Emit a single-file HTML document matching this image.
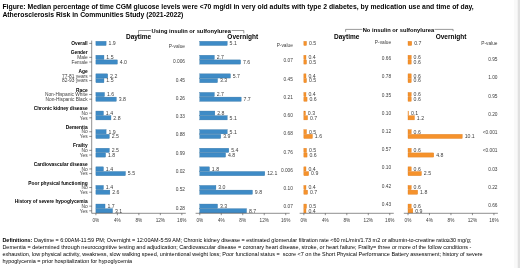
<!DOCTYPE html>
<html><head><meta charset="utf-8"><title>Figure</title>
<style>html,body{margin:0;padding:0;background:#fff;width:520px;height:268px;overflow:hidden}</style>
</head><body>
<svg width="520" height="268" viewBox="0 0 520 268" style="display:block">
<rect x="0" y="0" width="520" height="268" fill="#ffffff"/>
<rect x="514" y="0" width="3" height="268" fill="#f9f9f9"/>
<rect x="517" y="0" width="1" height="268" fill="#f2f2f2"/>
<rect x="518" y="0" width="2" height="268" fill="#e0e0e0"/>
<g font-family="'Liberation Sans', Arial, sans-serif" font-weight="bold" font-size="6.83" fill="#000000">
<text x="2.4" y="8.9" textLength="471.3" lengthAdjust="spacing">Figure: Median percentage of time CGM glucose levels were &lt;70 mg/dl in very old adults with type 2 diabetes, by medication use and time of day,</text>
<text x="2.4" y="17.4">Atherosclerosis Risk in Communities Study (2021-2022)</text>
</g>
<g font-family="'Liberation Sans', Arial, sans-serif" font-weight="bold" font-size="6.5" fill="#000000" text-anchor="middle">
<text x="138.6" y="38.6">Daytime</text>
<text x="242.7" y="38.6">Overnight</text>
<text x="346.7" y="38.5">Daytime</text>
<text x="451.0" y="38.5">Overnight</text>
</g>
<g font-family="'Liberation Sans', Arial, sans-serif" font-weight="bold" font-size="5.72" fill="#000000">
<text x="151.5" y="32.6" textLength="79.4" lengthAdjust="spacing">Using insulin or sulfonylurea</text>
<text x="362.7" y="31.5" textLength="71.4" lengthAdjust="spacing">No insulin or sulfonylurea</text>
</g>
<g fill="none" stroke="#333" stroke-width="0.5">
<polyline points="138.5,33.6 138.5,30.5 150.8,30.5"/>
<polyline points="231.6,30.5 243.8,30.5 243.8,33.3"/>
<polyline points="345.6,31.8 345.6,29.4 362.3,29.4"/>
<polyline points="434.6,29.4 453.1,29.4 453.1,31.2"/>
</g>
<g font-family="'Liberation Sans', Arial, sans-serif" font-size="4.83" text-anchor="end">
<text x="87.6" y="45.13" font-weight="bold" fill="#000000">Overall</text>
<text x="87.6" y="54.43" font-weight="bold" fill="#000000">Gender</text>
<text x="87.6" y="59.08" fill="#3d3d3d">Male</text>
<text x="87.6" y="63.73" fill="#3d3d3d">Female</text>
<text x="87.6" y="73.03" font-weight="bold" fill="#000000">Age</text>
<text x="87.6" y="77.68" fill="#3d3d3d">77-81 years</text>
<text x="87.6" y="82.33" fill="#3d3d3d">82-93 years</text>
<text x="87.6" y="91.63" font-weight="bold" fill="#000000">Race</text>
<text x="87.6" y="96.28" fill="#3d3d3d">Non-Hispanic White</text>
<text x="87.6" y="100.93" fill="#3d3d3d">Non-Hispanic Black</text>
<text x="87.6" y="110.23" font-weight="bold" fill="#000000">Chronic kidney disease</text>
<text x="87.6" y="114.88" fill="#3d3d3d">No</text>
<text x="87.6" y="119.53" fill="#3d3d3d">Yes</text>
<text x="87.6" y="128.83" font-weight="bold" fill="#000000">Dementia</text>
<text x="87.6" y="133.48" fill="#3d3d3d">No</text>
<text x="87.6" y="138.13" fill="#3d3d3d">Yes</text>
<text x="87.6" y="147.43" font-weight="bold" fill="#000000">Frailty</text>
<text x="87.6" y="152.08" fill="#3d3d3d">No</text>
<text x="87.6" y="156.73" fill="#3d3d3d">Yes</text>
<text x="87.6" y="166.03" font-weight="bold" fill="#000000">Cardiovascular disease</text>
<text x="87.6" y="170.68" fill="#3d3d3d">No</text>
<text x="87.6" y="175.33" fill="#3d3d3d">Yes</text>
<text x="87.6" y="184.63" font-weight="bold" fill="#000000">Poor physical functioning</text>
<text x="87.6" y="189.28" fill="#3d3d3d">No</text>
<text x="87.6" y="193.93" fill="#3d3d3d">Yes</text>
<text x="87.6" y="203.23" font-weight="bold" fill="#000000">History of severe hypoglycemia</text>
<text x="87.6" y="207.88" fill="#3d3d3d">No</text>
<text x="87.6" y="212.53" fill="#3d3d3d">Yes</text>
</g>
<g stroke="#333" stroke-width="0.55" fill="none">
<line x1="91.7" y1="40.6" x2="91.7" y2="213.3"/>
<line x1="89.2" y1="43.40" x2="91.7" y2="43.40"/>
<line x1="89.2" y1="57.35" x2="91.7" y2="57.35"/>
<line x1="89.2" y1="62.00" x2="91.7" y2="62.00"/>
<line x1="89.2" y1="75.95" x2="91.7" y2="75.95"/>
<line x1="89.2" y1="80.60" x2="91.7" y2="80.60"/>
<line x1="89.2" y1="94.55" x2="91.7" y2="94.55"/>
<line x1="89.2" y1="99.20" x2="91.7" y2="99.20"/>
<line x1="89.2" y1="113.15" x2="91.7" y2="113.15"/>
<line x1="89.2" y1="117.80" x2="91.7" y2="117.80"/>
<line x1="89.2" y1="131.75" x2="91.7" y2="131.75"/>
<line x1="89.2" y1="136.40" x2="91.7" y2="136.40"/>
<line x1="89.2" y1="150.35" x2="91.7" y2="150.35"/>
<line x1="89.2" y1="155.00" x2="91.7" y2="155.00"/>
<line x1="89.2" y1="168.95" x2="91.7" y2="168.95"/>
<line x1="89.2" y1="173.60" x2="91.7" y2="173.60"/>
<line x1="89.2" y1="187.55" x2="91.7" y2="187.55"/>
<line x1="89.2" y1="192.20" x2="91.7" y2="192.20"/>
<line x1="89.2" y1="206.15" x2="91.7" y2="206.15"/>
<line x1="89.2" y1="210.80" x2="91.7" y2="210.80"/>
</g>
<g fill="#3e8bc6" stroke="#2d6fa2" stroke-width="0.35">
<rect x="95.9" y="41.30" width="10.20" height="4.2"/>
<rect x="95.9" y="55.25" width="8.05" height="4.2"/>
<rect x="95.9" y="59.90" width="21.48" height="4.2"/>
<rect x="95.9" y="73.85" width="11.81" height="4.2"/>
<rect x="95.9" y="78.50" width="8.05" height="4.2"/>
<rect x="95.9" y="92.45" width="8.59" height="4.2"/>
<rect x="95.9" y="97.10" width="20.41" height="4.2"/>
<rect x="95.9" y="111.05" width="7.52" height="4.2"/>
<rect x="95.9" y="115.70" width="15.04" height="4.2"/>
<rect x="95.9" y="129.65" width="10.20" height="4.2"/>
<rect x="95.9" y="134.30" width="13.43" height="4.2"/>
<rect x="95.9" y="148.25" width="13.43" height="4.2"/>
<rect x="95.9" y="152.90" width="9.67" height="4.2"/>
<rect x="95.9" y="166.85" width="7.52" height="4.2"/>
<rect x="95.9" y="171.50" width="29.54" height="4.2"/>
<rect x="95.9" y="185.45" width="7.52" height="4.2"/>
<rect x="95.9" y="190.10" width="13.96" height="4.2"/>
<rect x="95.9" y="204.05" width="9.13" height="4.2"/>
<rect x="95.9" y="208.70" width="16.65" height="4.2"/>
</g>
<g font-family="'Liberation Sans', Arial, sans-serif" font-size="5.2" fill="#3d3d3d">
<text x="108.50" y="45.27">1.9</text>
<text x="106.36" y="59.22">1.5</text>
<text x="119.78" y="63.87">4.0</text>
<text x="110.11" y="77.82">2.2</text>
<text x="106.36" y="82.47">1.5</text>
<text x="106.89" y="96.42">1.6</text>
<text x="118.71" y="101.07">3.8</text>
<text x="105.82" y="115.02">1.4</text>
<text x="113.34" y="119.67">2.8</text>
<text x="108.50" y="133.62">1.9</text>
<text x="111.73" y="138.27">2.5</text>
<text x="111.73" y="152.22">2.5</text>
<text x="107.97" y="156.87">1.8</text>
<text x="105.82" y="170.82">1.4</text>
<text x="127.84" y="175.47">5.5</text>
<text x="105.82" y="189.42">1.4</text>
<text x="112.26" y="194.07">2.6</text>
<text x="107.43" y="208.02">1.7</text>
<text x="114.95" y="212.67">3.1</text>
</g>
<g font-family="'Liberation Sans', Arial, sans-serif" font-size="4.8" fill="#3d3d3d" text-anchor="end">
<text x="185.0" y="47.72">P-value</text>
<text x="185.0" y="63.32">0.006</text>
<text x="185.0" y="81.60">0.45</text>
<text x="185.0" y="99.88">0.26</text>
<text x="185.0" y="118.16">0.33</text>
<text x="185.0" y="136.44">0.88</text>
<text x="185.0" y="154.72">0.99</text>
<text x="185.0" y="173.00">0.02</text>
<text x="185.0" y="191.28">0.52</text>
<text x="185.0" y="209.56">0.28</text>
</g>
<g stroke="#333" stroke-width="0.55" fill="none">
<line x1="91.70" y1="213.3" x2="185.82" y2="213.3"/>
<line x1="95.90" y1="213.3" x2="95.90" y2="215.20000000000002"/>
<line x1="117.38" y1="213.3" x2="117.38" y2="215.20000000000002"/>
<line x1="138.86" y1="213.3" x2="138.86" y2="215.20000000000002"/>
<line x1="160.34" y1="213.3" x2="160.34" y2="215.20000000000002"/>
<line x1="181.82" y1="213.3" x2="181.82" y2="215.20000000000002"/>
</g>
<g font-family="'Liberation Sans', Arial, sans-serif" font-size="4.7" fill="#3d3d3d" text-anchor="middle">
<text x="95.90" y="222">0%</text>
<text x="117.38" y="222">4%</text>
<text x="138.86" y="222">8%</text>
<text x="160.34" y="222">12%</text>
<text x="181.82" y="222">16%</text>
</g>
<g fill="#3e8bc6" stroke="#2d6fa2" stroke-width="0.35">
<rect x="199.8" y="41.30" width="27.39" height="4.2"/>
<rect x="199.8" y="55.25" width="14.50" height="4.2"/>
<rect x="199.8" y="59.90" width="40.81" height="4.2"/>
<rect x="199.8" y="73.85" width="30.61" height="4.2"/>
<rect x="199.8" y="78.50" width="17.72" height="4.2"/>
<rect x="199.8" y="92.45" width="14.50" height="4.2"/>
<rect x="199.8" y="97.10" width="41.35" height="4.2"/>
<rect x="199.8" y="111.05" width="15.04" height="4.2"/>
<rect x="199.8" y="115.70" width="27.39" height="4.2"/>
<rect x="199.8" y="129.65" width="27.39" height="4.2"/>
<rect x="199.8" y="134.30" width="20.94" height="4.2"/>
<rect x="199.8" y="148.25" width="29.00" height="4.2"/>
<rect x="199.8" y="152.90" width="25.78" height="4.2"/>
<rect x="199.8" y="166.85" width="9.67" height="4.2"/>
<rect x="199.8" y="171.50" width="64.98" height="4.2"/>
<rect x="199.8" y="185.45" width="16.11" height="4.2"/>
<rect x="199.8" y="190.10" width="52.63" height="4.2"/>
<rect x="199.8" y="204.05" width="17.72" height="4.2"/>
<rect x="199.8" y="208.70" width="46.72" height="4.2"/>
</g>
<g font-family="'Liberation Sans', Arial, sans-serif" font-size="5.2" fill="#3d3d3d">
<text x="229.59" y="45.27">5.1</text>
<text x="216.70" y="59.22">2.7</text>
<text x="243.01" y="63.87">7.6</text>
<text x="232.81" y="77.82">5.7</text>
<text x="219.92" y="82.47">3.3</text>
<text x="216.70" y="96.42">2.7</text>
<text x="243.55" y="101.07">7.7</text>
<text x="217.24" y="115.02">2.8</text>
<text x="229.59" y="119.67">5.1</text>
<text x="229.59" y="133.62">5.1</text>
<text x="223.14" y="138.27">3.9</text>
<text x="231.20" y="152.22">5.4</text>
<text x="227.98" y="156.87">4.8</text>
<text x="211.87" y="170.82">1.8</text>
<text x="267.18" y="175.47">12.1</text>
<text x="218.31" y="189.42">3.0</text>
<text x="254.83" y="194.07">9.8</text>
<text x="219.92" y="208.02">3.3</text>
<text x="248.92" y="212.67">8.7</text>
</g>
<g font-family="'Liberation Sans', Arial, sans-serif" font-size="4.8" fill="#3d3d3d" text-anchor="end">
<text x="292.90000000000003" y="47.02">P-value</text>
<text x="292.90000000000003" y="62.32">0.07</text>
<text x="292.90000000000003" y="80.57">0.45</text>
<text x="292.90000000000003" y="98.82">0.21</text>
<text x="292.90000000000003" y="117.07">0.60</text>
<text x="292.90000000000003" y="135.32">0.68</text>
<text x="292.90000000000003" y="153.57">0.76</text>
<text x="292.90000000000003" y="171.82">0.006</text>
<text x="292.90000000000003" y="190.07">0.10</text>
<text x="292.90000000000003" y="208.32">0.07</text>
</g>
<g stroke="#333" stroke-width="0.55" fill="none">
<line x1="195.60" y1="213.3" x2="289.72" y2="213.3"/>
<line x1="199.80" y1="213.3" x2="199.80" y2="215.20000000000002"/>
<line x1="221.28" y1="213.3" x2="221.28" y2="215.20000000000002"/>
<line x1="242.76" y1="213.3" x2="242.76" y2="215.20000000000002"/>
<line x1="264.24" y1="213.3" x2="264.24" y2="215.20000000000002"/>
<line x1="285.72" y1="213.3" x2="285.72" y2="215.20000000000002"/>
</g>
<g font-family="'Liberation Sans', Arial, sans-serif" font-size="4.7" fill="#3d3d3d" text-anchor="middle">
<text x="199.80" y="222">0%</text>
<text x="221.28" y="222">4%</text>
<text x="242.76" y="222">8%</text>
<text x="264.24" y="222">12%</text>
<text x="285.72" y="222">16%</text>
</g>
<g fill="#f5922c" stroke="#dc7a1c" stroke-width="0.35">
<rect x="303.85" y="41.30" width="2.69" height="4.2"/>
<rect x="303.85" y="55.25" width="2.15" height="4.2"/>
<rect x="303.85" y="59.90" width="2.69" height="4.2"/>
<rect x="303.85" y="73.85" width="2.15" height="4.2"/>
<rect x="303.85" y="78.50" width="2.69" height="4.2"/>
<rect x="303.85" y="92.45" width="2.15" height="4.2"/>
<rect x="303.85" y="97.10" width="3.22" height="4.2"/>
<rect x="303.85" y="111.05" width="1.61" height="4.2"/>
<rect x="303.85" y="115.70" width="3.76" height="4.2"/>
<rect x="303.85" y="129.65" width="2.69" height="4.2"/>
<rect x="303.85" y="134.30" width="8.59" height="4.2"/>
<rect x="303.85" y="148.25" width="2.69" height="4.2"/>
<rect x="303.85" y="152.90" width="3.22" height="4.2"/>
<rect x="303.85" y="166.85" width="2.15" height="4.2"/>
<rect x="303.85" y="171.50" width="4.83" height="4.2"/>
<rect x="303.85" y="185.45" width="2.15" height="4.2"/>
<rect x="303.85" y="190.10" width="3.76" height="4.2"/>
<rect x="303.85" y="204.05" width="2.69" height="4.2"/>
<rect x="303.85" y="208.70" width="2.15" height="4.2"/>
</g>
<g font-family="'Liberation Sans', Arial, sans-serif" font-size="5.2" fill="#3d3d3d">
<text x="308.94" y="45.27">0.5</text>
<text x="308.40" y="59.22">0.4</text>
<text x="308.94" y="63.87">0.5</text>
<text x="308.40" y="77.82">0.4</text>
<text x="308.94" y="82.47">0.5</text>
<text x="308.40" y="96.42">0.4</text>
<text x="309.47" y="101.07">0.6</text>
<text x="307.86" y="115.02">0.3</text>
<text x="310.01" y="119.67">0.7</text>
<text x="308.94" y="133.62">0.5</text>
<text x="314.84" y="138.27">1.6</text>
<text x="308.94" y="152.22">0.5</text>
<text x="309.47" y="156.87">0.6</text>
<text x="308.40" y="170.82">0.4</text>
<text x="311.08" y="175.47">0.9</text>
<text x="308.40" y="189.42">0.4</text>
<text x="310.01" y="194.07">0.7</text>
<text x="308.94" y="208.02">0.5</text>
<text x="308.40" y="212.67">0.4</text>
</g>
<g font-family="'Liberation Sans', Arial, sans-serif" font-size="4.8" fill="#3d3d3d" text-anchor="end">
<text x="391.1" y="44.32">P-value</text>
<text x="391.1" y="60.22">0.66</text>
<text x="391.1" y="78.43">0.78</text>
<text x="391.1" y="96.64">0.35</text>
<text x="391.1" y="114.85">0.10</text>
<text x="391.1" y="133.06">0.12</text>
<text x="391.1" y="151.27">0.57</text>
<text x="391.1" y="169.48">0.10</text>
<text x="391.1" y="187.69">0.42</text>
<text x="391.1" y="205.90">0.43</text>
</g>
<g stroke="#333" stroke-width="0.55" fill="none">
<line x1="299.65" y1="213.3" x2="393.77" y2="213.3"/>
<line x1="303.85" y1="213.3" x2="303.85" y2="215.20000000000002"/>
<line x1="325.33" y1="213.3" x2="325.33" y2="215.20000000000002"/>
<line x1="346.81" y1="213.3" x2="346.81" y2="215.20000000000002"/>
<line x1="368.29" y1="213.3" x2="368.29" y2="215.20000000000002"/>
<line x1="389.77" y1="213.3" x2="389.77" y2="215.20000000000002"/>
</g>
<g font-family="'Liberation Sans', Arial, sans-serif" font-size="4.7" fill="#3d3d3d" text-anchor="middle">
<text x="303.85" y="222">0%</text>
<text x="325.33" y="222">4%</text>
<text x="346.81" y="222">8%</text>
<text x="368.29" y="222">12%</text>
<text x="389.77" y="222">16%</text>
</g>
<g fill="#f5922c" stroke="#dc7a1c" stroke-width="0.35">
<rect x="408.0" y="41.30" width="3.76" height="4.2"/>
<rect x="408.0" y="55.25" width="3.22" height="4.2"/>
<rect x="408.0" y="59.90" width="3.22" height="4.2"/>
<rect x="408.0" y="73.85" width="3.22" height="4.2"/>
<rect x="408.0" y="78.50" width="3.22" height="4.2"/>
<rect x="408.0" y="92.45" width="3.22" height="4.2"/>
<rect x="408.0" y="97.10" width="3.22" height="4.2"/>
<rect x="408.0" y="111.05" width="0.54" height="4.2"/>
<rect x="408.0" y="115.70" width="6.44" height="4.2"/>
<rect x="408.0" y="129.65" width="3.22" height="4.2"/>
<rect x="408.0" y="134.30" width="54.24" height="4.2"/>
<rect x="408.0" y="148.25" width="3.22" height="4.2"/>
<rect x="408.0" y="152.90" width="25.78" height="4.2"/>
<rect x="408.0" y="166.85" width="3.22" height="4.2"/>
<rect x="408.0" y="171.50" width="13.43" height="4.2"/>
<rect x="408.0" y="185.45" width="3.22" height="4.2"/>
<rect x="408.0" y="190.10" width="9.67" height="4.2"/>
<rect x="408.0" y="204.05" width="3.22" height="4.2"/>
<rect x="408.0" y="208.70" width="4.83" height="4.2"/>
</g>
<g font-family="'Liberation Sans', Arial, sans-serif" font-size="5.2" fill="#3d3d3d">
<text x="414.16" y="45.27">0.7</text>
<text x="413.62" y="59.22">0.6</text>
<text x="413.62" y="63.87">0.6</text>
<text x="413.62" y="77.82">0.6</text>
<text x="413.62" y="82.47">0.6</text>
<text x="413.62" y="96.42">0.6</text>
<text x="413.62" y="101.07">0.6</text>
<text x="410.94" y="115.02">0.1</text>
<text x="416.84" y="119.67">1.2</text>
<text x="413.62" y="133.62">0.6</text>
<text x="464.64" y="138.27">10.1</text>
<text x="413.62" y="152.22">0.6</text>
<text x="436.18" y="156.87">4.8</text>
<text x="413.62" y="170.82">0.6</text>
<text x="423.82" y="175.47">2.5</text>
<text x="413.62" y="189.42">0.6</text>
<text x="420.07" y="194.07">1.8</text>
<text x="413.62" y="208.02">0.6</text>
<text x="415.23" y="212.67">0.9</text>
</g>
<g font-family="'Liberation Sans', Arial, sans-serif" font-size="4.8" fill="#3d3d3d" text-anchor="end">
<text x="497.5" y="45.32">P-value</text>
<text x="497.5" y="61.02">0.95</text>
<text x="497.5" y="79.30">1.00</text>
<text x="497.5" y="97.58">0.95</text>
<text x="497.5" y="115.86">0.20</text>
<text x="497.5" y="134.14">&lt;0.001</text>
<text x="497.5" y="152.42">&lt;0.001</text>
<text x="497.5" y="170.70">0.03</text>
<text x="497.5" y="188.98">0.22</text>
<text x="497.5" y="207.26">0.66</text>
</g>
<g stroke="#333" stroke-width="0.55" fill="none">
<line x1="403.80" y1="213.3" x2="497.92" y2="213.3"/>
<line x1="408.00" y1="213.3" x2="408.00" y2="215.20000000000002"/>
<line x1="429.48" y1="213.3" x2="429.48" y2="215.20000000000002"/>
<line x1="450.96" y1="213.3" x2="450.96" y2="215.20000000000002"/>
<line x1="472.44" y1="213.3" x2="472.44" y2="215.20000000000002"/>
<line x1="493.92" y1="213.3" x2="493.92" y2="215.20000000000002"/>
</g>
<g font-family="'Liberation Sans', Arial, sans-serif" font-size="4.7" fill="#3d3d3d" text-anchor="middle">
<text x="408.00" y="222">0%</text>
<text x="429.48" y="222">4%</text>
<text x="450.96" y="222">8%</text>
<text x="472.44" y="222">12%</text>
<text x="493.92" y="222">16%</text>
</g>
<g font-family="'Liberation Sans', Arial, sans-serif" font-size="5.48" fill="#000000" xml:space="preserve">
<text x="2.4" y="242" textLength="468.8" lengthAdjust="spacing"><tspan font-weight="bold">Definitions:</tspan> Daytime = 6:00AM-11:59 PM; Overnight = 12:00AM-5:59 AM; Chronic kidney disease = estimated glomerular filtration rate &lt;60 mL/min/1.73 m2 or albumin-to-creatine ratio≥30 mg/g;</text>
<text x="2.4" y="249" textLength="468.9" lengthAdjust="spacing">Dementia = determined through neurocognitive testing and adjudication; Cardiovascular disease = coronary heart disease, stroke, or heart failure; Frailty= three or more of the follow conditions -</text>
<text x="2.4" y="256" style="white-space:pre">exhaustion, low physical activity, weakness, slow walking speed, unintentional weight loss; Poor functional status =  score &lt;7 on the Short Physical Performance Battery assessment; history of severe</text>
<text x="2.4" y="263">hypoglycemia = prior hospitalization for hypoglycemia</text>
</g>
</svg>
</body></html>
